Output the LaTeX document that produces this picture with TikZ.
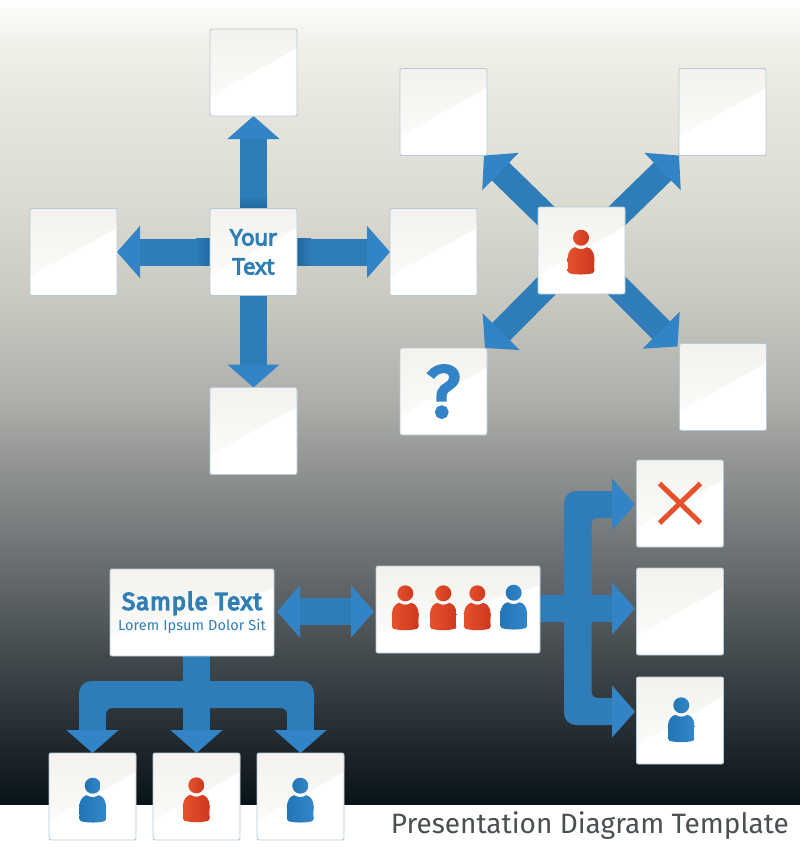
\documentclass[tikz,border=0pt]{standalone}
\usepackage{fontspec}
\usetikzlibrary{arrows.meta,calc}
\newfontfamily\capfont[FakeBold=5]{Open Sans}
\newfontfamily\bodyfont{Fira Sans}
\newfontfamily\medfont[FakeBold=5,LetterSpace=2.6]{Fira Sans}
\newfontfamily\subfont[LetterSpace=0.6]{Fira Sans}
\newfontfamily\markfont[FakeBold=5]{Fira Sans}
\definecolor{bga}{HTML}{FFFFFF}\definecolor{bgb}{HTML}{F2F1EA}\definecolor{bgc}{HTML}{E8E7DF}
\definecolor{bgd}{HTML}{DCDBD2}\definecolor{bge}{HTML}{C9C9C1}\definecolor{bgf}{HTML}{AEAFAB}
\definecolor{bgg}{HTML}{8F9290}\definecolor{bgh}{HTML}{6E7376}\definecolor{bgi}{HTML}{454C50}
\definecolor{bgj}{HTML}{1D262C}\definecolor{bgk}{HTML}{0A141B}
\definecolor{shaftblue}{HTML}{2E7DB9}\definecolor{headblue}{HTML}{3384C6}\definecolor{darkblue}{HTML}{1E689F}
\definecolor{cardline}{HTML}{B4C9D9}\definecolor{glossA}{HTML}{F3F2EE}\definecolor{glossM}{HTML}{FAFAF8}\definecolor{glossB}{HTML}{FDFDFC}
\definecolor{textblue}{HTML}{2F7FB5}\definecolor{titlegrey}{HTML}{4A4F52}
\definecolor{redL}{HTML}{E6512C}\definecolor{redR}{HTML}{CC381E}
\definecolor{blueL}{HTML}{2176B6}\definecolor{blueR}{HTML}{3486C8}
\pgfdeclareverticalshading{bgshade}{100bp}{color(0bp)=(bgk);color(25.25bp)=(bgk);color(28.36bp)=(bgj);color(34.58bp)=(bgi);color(40.8bp)=(bgh);color(45.77bp)=(bgg);color(50.12bp)=(bgf);color(56.34bp)=(bge);color(62.56bp)=(bgd);color(68.78bp)=(bgc);color(72.51bp)=(bgb);color(75bp)=(bga);color(100bp)=(bga)}
\pgfdeclarelayer{backdrop}\pgfdeclarelayer{links}
\pgfsetlayers{backdrop,links,main}
\newcommand{\personshape}[2]{%
  \shade[left color=#1,right color=#2] (0,0) circle (8pt);
  \shade[left color=#1,right color=#2] (-6,9.5) .. controls (-2,12) and (2,12) .. (6,9.5)
    .. controls (10,10.5) and (13,14) .. (13.5,21) .. controls (13.5,25) and (12.5,27) .. (13.5,33)
    .. controls (13.5,35.5) and (11,36) .. (8,36.3) .. controls (3,37) and (-3,37) .. (-8,36.3)
    .. controls (-11,36) and (-13.5,35.5) .. (-13.5,33) .. controls (-12.5,27) and (-13.5,25) .. (-13.5,21)
    .. controls (-13,14) and (-10,10.5) .. (-6,9.5) -- cycle;}
\tikzset{
  redp/.pic={\personshape{redL}{redR}},
  bluep/.pic={\personshape{blueL}{blueR}},
  card/.style={draw=cardline,line width=.9pt,fill=white,rounded corners=2pt,minimum width=87pt,minimum height=87pt,inner sep=0pt,outer sep=0pt,align=center,
    path picture={\shade[top color=glossA,middle color=glossM,bottom color=glossB]
      (path picture bounding box.north west) -- (path picture bounding box.north east)
      -- ($(path picture bounding box.south east)!.78!(path picture bounding box.north east)$)
      -- ($(path picture bounding box.south west)!.22!(path picture bounding box.north west)$) -- cycle;}},
  widecard/.style={card,minimum width=164pt},
  conn/.style={line width=27pt,draw=shaftblue,-{Triangle[length=23pt,width=51pt,color=headblue]}},
  diagconn/.style={conn,line width=25pt},
  biconn/.style={line width=27pt,draw=shaftblue,{Triangle[length=23pt,width=51pt,color=headblue]}-{Triangle[length=23pt,width=51pt,color=headblue]}},
  busfill/.style={fill=shaftblue},
  crossbar/.style={line width=5pt,draw=redL}
}
\begin{document}
\begin{tikzpicture}[x=1pt,y=-1pt]
\useasboundingbox (0,0) rectangle (800,860);
\begin{pgfonlayer}{backdrop}
  \shade[shading=bgshade] (0,0) rectangle (800,804);
\end{pgfonlayer}
% cross cluster
\node[card,font=\capfont\fontsize{22}{29}\selectfont,text=textblue] (c) at (253.5,252) {Your\\Text};
\node[card] (ct) at (253.5,72.5) {};
\node[card] (cl) at (73.5,252) {};
\node[card] (cr) at (433.5,252) {};
\node[card] (cb) at (253.5,431) {};
% X cluster
\node[card] (x) at (581.5,250.5) {};
\node[card] (xtl) at (443.5,112) {};
\node[card] (xtr) at (722.5,112) {};
\node[card,font=\markfont\fontsize{72}{72}\selectfont,text=headblue] (xbl) at (443.5,391.5) {?};
\node[card] (xbr) at (723,387) {};
\pic (xp) at (581,237.7) {redp};
% lower part
\node[widecard,text=textblue] (s) at (192,612.5) {{\medfont\fontsize{24.5}{26}\selectfont Sample Text}\\[3pt]{\subfont\fontsize{14.5}{17}\selectfont Lorem Ipsum Dolor Sit}};
\node[widecard] (p) at (458,609.5) {};
\pic (p1) at (405.3,593.3) {redp};
\pic (p2) at (443.3,593.3) {redp};
\pic (p3) at (477.3,593.3) {redp};
\pic (p4) at (513.7,592.7) {bluep};
\node[card] (ra) at (680,503.5) {};
\node[card] (rb) at (680,611.5) {};
\node[card] (rc) at (680,720.5) {};
\pic (rp) at (681.3,705.3) {bluep};
\draw[crossbar] (659.5,483.5) -- (700.5,523);
\draw[crossbar] (700.5,483.5) -- (659.5,523);
\node[card] (b1) at (92.5,796.5) {};
\node[card] (b2) at (196.5,796.5) {};
\node[card] (b3) at (300.5,796.5) {};
\pic (bp1) at (92.7,785.7) {bluep};
\pic (bp2) at (196.3,785.3) {redp};
\pic (bp3) at (300.3,785.7) {bluep};
\node[anchor=base east,inner sep=0pt,text=titlegrey,font=\bodyfont\fontsize{28}{30}\selectfont] (title) at (789,833) {Presentation Diagram Template};
% junctions
\coordinate (jl) at (92.5,694.5);
\coordinate (jr) at (300.5,694.5);
\coordinate (ja) at (577.5,504.5);
\coordinate (jc) at (577.5,711.5);
\coordinate (ma) at (635,504.5);
\coordinate (mb) at (635,608.5);
\coordinate (mc) at (635,711.5);
\coordinate (da) at (0,611.5);
\begin{pgfonlayer}{links}
  \draw[conn] (c.north) -- (ct.south);
  \draw[conn] (c.west) -- (cl.east);
  \draw[conn] (c.east) -- (cr.west);
  \draw[conn] (c.south) -- (cb.north);
  \draw[diagconn] (x.center) -- ([xshift=-3pt]xtl.south east);
  \draw[diagconn] (x.center) -- (xtr.south west);
  \draw[diagconn] (x.center) -- ([xshift=-2pt]xbl.north east);
  \draw[diagconn] (x.center) -- ([shift={(-2pt,-3pt)}]xbr.north west);
  \draw[biconn,shorten <=3pt,shorten >=2pt] (s.east |- da) -- (p.west |- da);
  % right bus
  \fill[busfill] (620,518) -- (620,491) [rounded corners=12pt] -- (564,491) -- (564,725) [sharp corners] -- (620,725) -- (620,698) [rounded corners=6pt] -- (591.5,698) -- (591.5,518) [sharp corners] -- cycle;
  \draw[conn] (ja) -- (ma);
  \draw[conn] (p.east |- mb) -- (mb);
  \draw[conn] (jc) -- (mc);
  % tree
  \fill[busfill] (79,720) [rounded corners=12pt] -- (79,681) -- (314,681) [rounded corners=6pt] -- (314,720) [sharp corners] -- (287,720) [rounded corners=6pt] -- (287,708) -- (106,708) [sharp corners] -- (106,720) -- cycle;
  \draw[conn] (jl) -- (b1.north);
  \draw[conn] (s.south -| b2.north) -- (b2.north);
  \draw[conn] (jr) -- (b3.north);
  % shading at the joints
  \shade[bottom color=darkblue,top color=shaftblue] (240,195) rectangle (267,209);
  \shade[left color=shaftblue,right color=darkblue] (196,238.5) rectangle (210,265.5);
  \shade[left color=darkblue,right color=shaftblue] (297,238.5) rectangle (311,265.5);
\end{pgfonlayer}
\end{tikzpicture}
\end{document}
